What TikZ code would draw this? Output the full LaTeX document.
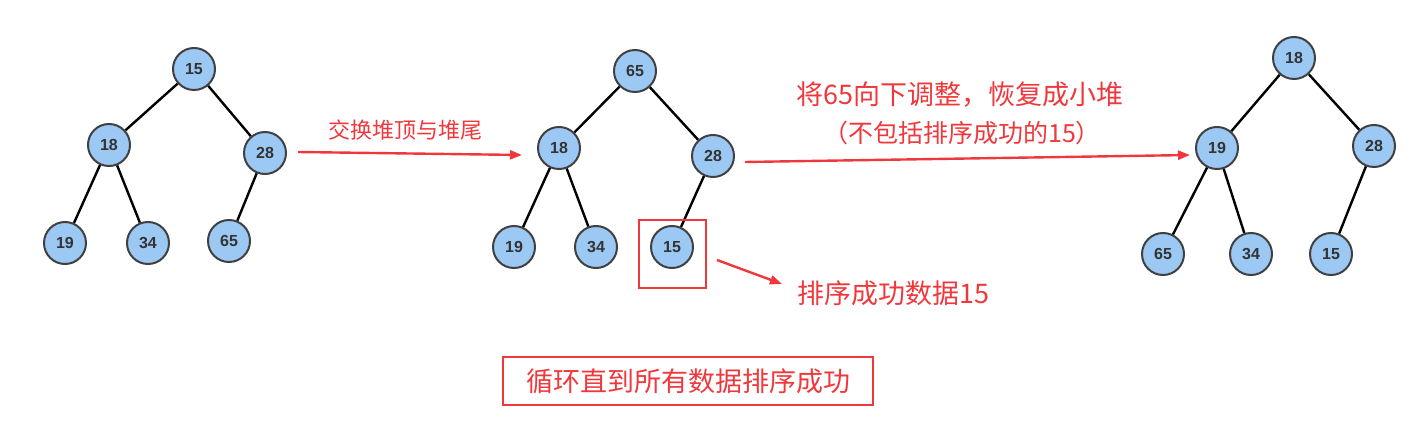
\documentclass[tikz,border=0pt]{standalone}
\usepackage{fontspec}
\setmainfont{Liberation Sans}
\newfontfamily\cjk{Noto Sans CJK SC}
\usetikzlibrary{arrows.meta}
\definecolor{nfill}{HTML}{9CC8F4}
\definecolor{nred}{HTML}{F0383C}
\begin{document}
\begin{tikzpicture}[x=1pt,y=-1pt,
  nd/.style={circle,draw=black!75,line width=2pt,fill=nfill,minimum size=42pt,inner sep=0pt,font=\bfseries\fontsize{16}{16}\selectfont,text=black!80},
  ed/.style={line width=2.4pt,black},
  rar/.style={nred,line width=2.4pt,-{Triangle[length=12pt,width=9pt]}},
  lab/.style={text=nred,font=\cjk\fontsize{24}{28}\selectfont,inner sep=0pt}]
\useasboundingbox (0,0) rectangle (1426,435);
% tree 1
\node[nd] (a1) at (194,69) {15};
\node[nd] (a2) at (109,145) {18};
\node[nd] (a3) at (265,153) {28};
\node[nd] (a4) at (65,243) {19};
\node[nd] (a5) at (148,243) {34};
\node[nd] (a6) at (229,241) {65};
\draw[ed] (a1)--(a2); \draw[ed] (a1)--(a3); \draw[ed] (a2)--(a4); \draw[ed] (a2)--(a5); \draw[ed] (a3)--(a6);
% tree 2
\node[nd] (b1) at (635,71) {65};
\node[nd] (b2) at (559,148) {18};
\node[nd] (b3) at (713,156) {28};
\node[nd] (b4) at (514,247) {19};
\node[nd] (b5) at (596,247) {34};
\node[nd] (b6) at (672,247) {15};
\draw[ed] (b1)--(b2); \draw[ed] (b1)--(b3); \draw[ed] (b2)--(b4); \draw[ed] (b2)--(b5); \draw[ed] (b3)--(b6);
\node[draw=nred,line width=1.5pt,minimum width=67pt,minimum height=68pt,inner sep=0pt] (box) at (672.5,254) {};
% tree 3
\node[nd] (c1) at (1294,58) {18};
\node[nd] (c2) at (1217,148) {19};
\node[nd] (c3) at (1374,146) {28};
\node[nd] (c4) at (1163,254) {65};
\node[nd] (c5) at (1251,254) {34};
\node[nd] (c6) at (1331,254) {15};
\draw[ed] (c1)--(c2); \draw[ed] (c1)--(c3); \draw[ed] (c2)--(c4); \draw[ed] (c2)--(c5); \draw[ed] (c3)--(c6);
% arrows
\coordinate (p1) at (298,152); \coordinate (p2) at (522,155);
\draw[rar] (p1)--(p2);
\node[lab,font=\cjk\fontsize{22}{26}\selectfont] (t1) at (405,130) {交换堆顶与堆尾};
\coordinate (q1) at (745,162); \coordinate (q2) at (1190,155);
\draw[rar] (q1)--(q2);
\node[lab,font=\cjk\fontsize{27}{30}\selectfont] (t2) at (960,95) {将65向下调整，恢复成小堆};
\node[lab,font=\cjk\fontsize{25}{30}\selectfont] (t3) at (962,133) {（不包括排序成功的15）};
\coordinate (r1) at (717,260); \coordinate (r2) at (782,284);
\draw[rar] (r1)--(r2);
\node[lab,font=\cjk\fontsize{27}{30}\selectfont] (t4) at (893,293) {排序成功数据15};
\node[draw=nred,line width=1.5pt,minimum width=370pt,minimum height=48pt,inner sep=0pt,text=nred,font=\cjk\fontsize{27}{30}\selectfont] (loop) at (688,381) {循环直到所有数据排序成功};
\end{tikzpicture}
\end{document}
